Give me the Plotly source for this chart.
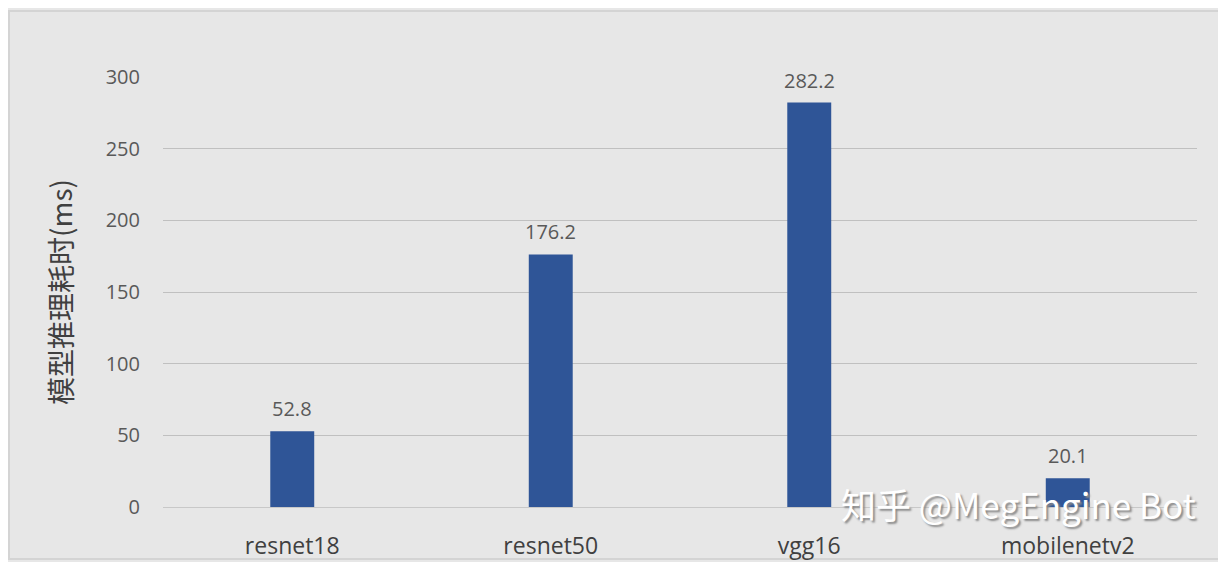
import plotly.graph_objects as go

# data
models = ["resnet18", "resnet50", "vgg16", "mobilenetv2"]
latency_ms = [52.8, 176.2, 282.2, 20.1]
y_ticks = [0, 50, 100, 150, 200, 250, 300]

BG = "#e7e7e7"
BAR = "#2f5597"
CJK = "Noto Sans CJK SC"

fig = go.Figure()
fig.add_trace(go.Bar(x=models, y=latency_ms, marker_color=BAR, marker_line_width=0))

# value labels above each bar
for m, v in zip(models, latency_ms):
    fig.add_annotation(
        x=m, y=v, text=f"{v:.1f}", showarrow=False, yanchor="bottom", yshift=7,
        font=dict(family="Open Sans", size=20, color="#595959"),
    )

# watermark, white with a soft grey shadow
fig.add_annotation(
    x=1.0, y=0.0, xref="paper", yref="paper", xanchor="right", yanchor="middle",
    yshift=4, borderpad=0, text="知乎 @MegEngine Bot", showarrow=False,
    font=dict(family=CJK, size=35, color="white", shadow="2px 2px 2px #8a8a8a"),
)

# thin frame around the chart area
fig.add_shape(
    type="rect", xref="paper", yref="paper",
    x0=-154 / 1034, x1=1 + 24 / 1034, y0=-52 / 430, y1=1 + 66 / 430,
    line=dict(color="#d4d4d4", width=2), fillcolor="rgba(0,0,0,0)", layer="below",
)

fig.update_layout(
    width=1218, height=554,
    margin=dict(l=155, r=29, t=69, b=55),
    paper_bgcolor=BG, plot_bgcolor=BG,
    bargap=0.83, showlegend=False,
    font=dict(family="Open Sans", color="#595959"),
)
fig.update_xaxes(
    automargin=False, showgrid=False, showline=True, linecolor="#c8c8c8", linewidth=1,
    ticks="", ticklabelstandoff=18,
    tickfont=dict(family="Open Sans", size=23, color="#404040"),
)
fig.update_yaxes(
    automargin=False, range=[0, 300], tickvals=y_ticks, showgrid=True,
    gridcolor="#c0c0c0", gridwidth=1,
    zeroline=False, showline=False, ticks="", ticklabelstandoff=22,
    tickfont=dict(family="Open Sans", size=20, color="#595959"),
    title=dict(text="模型推理耗时(ms)", font=dict(family=CJK, size=28, color="#404040"), standoff=24),
)

fig.write_html("out.html")
